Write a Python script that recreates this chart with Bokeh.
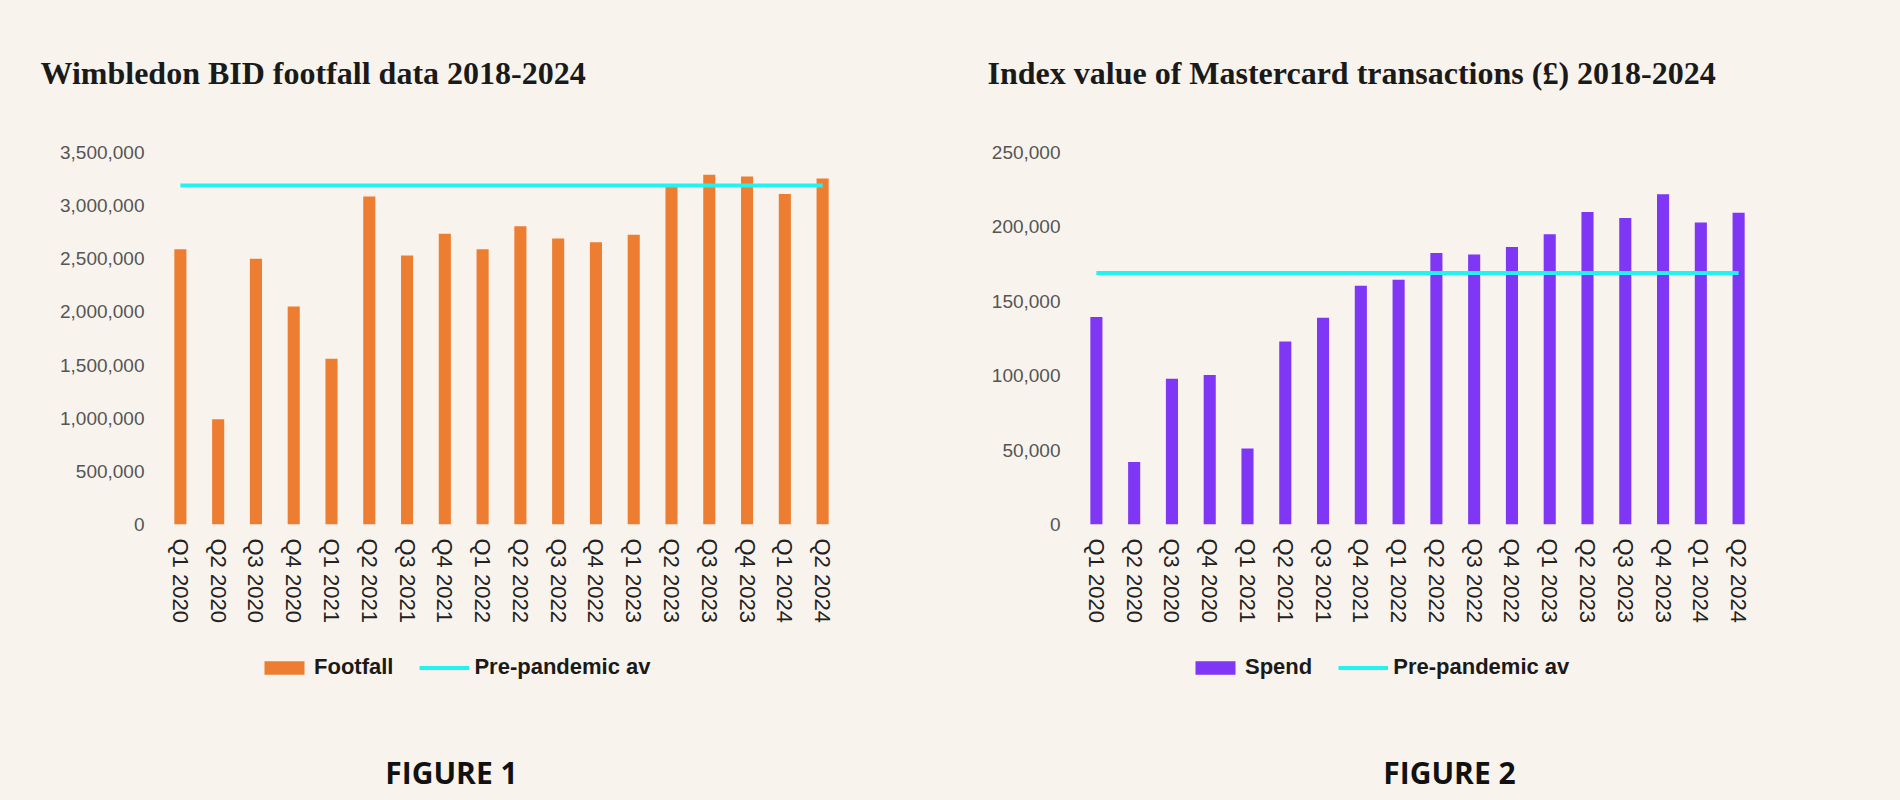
from bokeh.plotting import figure
from bokeh.layouts import row, column
from bokeh.models import (Range1d, FactorRange, Legend, LegendItem,
                          FixedTicker, NumeralTickFormatter, ColumnDataSource)
from bokeh.core.properties import value
from bokeh.embed import file_html
from bokeh.resources import INLINE

# ---------------- data ----------------
quarters = ["Q1 2020", "Q2 2020", "Q3 2020", "Q4 2020",
            "Q1 2021", "Q2 2021", "Q3 2021", "Q4 2021",
            "Q1 2022", "Q2 2022", "Q3 2022", "Q4 2022",
            "Q1 2023", "Q2 2023", "Q3 2023", "Q4 2023",
            "Q1 2024", "Q2 2024"]

footfall = [2590000, 990000, 2500000, 2050000, 1560000, 3085000,
            2530000, 2735000, 2590000, 2805000, 2690000, 2655000,
            2725000, 3185000, 3290000, 3275000, 3110000, 3255000]
footfall_prepandemic = 3190000
footfall_ticks = [0, 500000, 1000000, 1500000, 2000000, 2500000, 3000000, 3500000]

spend = [139500, 42000, 98000, 100500, 51000, 123000,
         139000, 160500, 164500, 182500, 181500, 186500,
         195000, 210000, 206000, 222000, 203000, 209500]
spend_prepandemic = 169000
spend_ticks = [0, 50000, 100000, 150000, 200000, 250000]

titles = ["Wimbledon BID footfall data 2018-2024",
          "Index value of Mastercard transactions (\u00a3) 2018-2024"]
figure_labels = ["FIGURE 1", "FIGURE 2"]
bar_names = ["Footfall", "Spend"]
avg_name = "Pre-pandemic av"

BG = "#F8F4ED"
ORANGE = "#ED7D31"
PURPLE = "#7F36F5"
CYAN = "#22F2F0"

W_TOTAL = 1900
TOP_H = 132
CHART_H = 508
BOTTOM_H = 160


def strip(height):
    s = figure(width=W_TOTAL, height=height,
               x_range=Range1d(0, W_TOTAL), y_range=Range1d(height, 0),
               min_border=0, x_axis_location=None, y_axis_location=None,
               output_backend="svg", toolbar_location=None)
    s.background_fill_color = BG
    s.border_fill_color = BG
    s.outline_line_color = None
    s.grid.grid_line_color = None
    return s


def make_chart(values, avg, ticks, bar_color, left_border, right_border):
    p = figure(x_range=FactorRange(*quarters, range_padding=0),
               y_range=Range1d(0, ticks[-1]),
               width=950, height=CHART_H,
               min_border_left=left_border, min_border_right=right_border,
               min_border_top=20, min_border_bottom=116,
               output_backend="svg", toolbar_location=None)
    p.background_fill_color = BG
    p.border_fill_color = BG
    p.outline_line_color = None
    p.xgrid.grid_line_color = None
    p.ygrid.grid_line_color = None

    src = ColumnDataSource(dict(q=quarters, v=values))
    p.vbar(x="q", top="v", width=0.32, source=src,
           fill_color=bar_color, line_color=None)
    p.line(x=[quarters[0], quarters[-1]], y=[avg, avg],
           line_color=CYAN, line_width=4)

    p.yaxis.ticker = FixedTicker(ticks=ticks)
    p.yaxis.formatter = NumeralTickFormatter(format="0,0")
    p.yaxis.axis_line_color = None
    p.yaxis.major_tick_line_color = None
    p.yaxis.minor_tick_line_color = None
    p.yaxis.major_tick_out = 0
    p.yaxis.major_tick_in = 0
    p.yaxis.major_label_standoff = 17
    p.yaxis.major_label_text_font = "Liberation Sans"
    p.yaxis.major_label_text_font_size = "19px"
    p.yaxis.major_label_text_color = "#555555"

    p.xaxis.axis_line_color = None
    p.xaxis.major_tick_line_color = None
    p.xaxis.major_tick_out = 0
    p.xaxis.major_tick_in = 0
    p.xaxis.major_label_orientation = "vertical"
    p.xaxis.major_label_standoff = 14
    p.xaxis.major_label_text_font = "Liberation Sans"
    p.xaxis.major_label_text_font_size = "22px"
    p.xaxis.major_label_text_color = "#222222"
    return p


# ---- titles strip ----
top = strip(TOP_H)
top.text(x=[40, 987], y=[72, 72], text=titles,
         text_font=value("Liberation Serif"), text_font_style="bold",
         text_font_size="32px", text_color="#1a1a1a",
         text_baseline="alphabetic", text_align="left")

# ---- charts ----
p1 = make_chart(footfall, footfall_prepandemic, footfall_ticks, ORANGE, 161, 109)
p2 = make_chart(spend, spend_prepandemic, spend_ticks, PURPLE, 127, 143)

# ---- legends + figure labels strip ----
bottom = strip(BOTTOM_H)
legend_renderers = []
for col in (ORANGE, PURPLE):
    # zero-size proxy glyphs: only used to draw the legend swatches
    b = bottom.vbar(x=[0], top=[0], bottom=[0], width=0,
                    fill_color=col, line_color=None)
    l = bottom.line(x=[0], y=[0], line_color=CYAN, line_width=4)
    legend_renderers.append((b, l))

for (b, l), name, x0 in zip(legend_renderers, bar_names, (259, 1190)):
    leg = Legend(items=[LegendItem(label=name, renderers=[b]),
                        LegendItem(label=avg_name, renderers=[l])],
                 orientation="horizontal", location=(x0, 120),
                 padding=0, margin=0, spacing=26, label_standoff=5,
                 glyph_width=50, glyph_height=17,
                 background_fill_alpha=0, border_line_color=None,
                 label_text_font="Liberation Sans", label_text_font_style="bold",
                 label_text_font_size="22px", label_text_color="#1a1a1a")
    bottom.add_layout(leg, "center")

bottom.text(x=[451, 1449], y=[132, 132], text=figure_labels,
            text_font=value("Open Sans"), text_font_style="bold",
            text_font_size="30px", text_color="#111111",
            text_align="center", text_baseline="alphabetic")

charts = row(p1, p2, styles={"background-color": BG})
layout = column(top, charts, bottom, styles={"background-color": BG})
open("out.html", "w").write(file_html(layout, INLINE))
